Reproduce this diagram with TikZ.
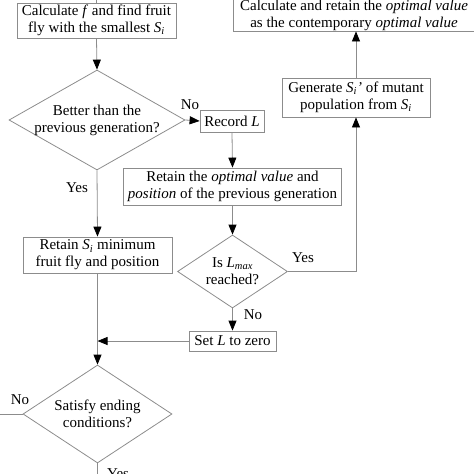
\documentclass[tikz,border=0pt]{standalone}
\usepackage{fontspec}
\setmainfont{Liberation Serif}
\usetikzlibrary{shapes.geometric,arrows.meta}
\newcommand{\Si}{\textit{S}\textsubscript{\textit{i}}}
\begin{document}
\begin{tikzpicture}[x=1pt,y=-1pt,
  txt/.style={font=\fontsize{15}{17}\selectfont,align=center,text=black},
  box/.style={txt,draw=black!45,line width=0.8pt,fill=white,inner sep=0pt,rectangle},
  dia/.style={draw=black!45,line width=0.8pt,diamond,inner sep=0pt},
  ln/.style={draw=black!45,line width=0.8pt},
  arr/.style={ln,-{Triangle[length=10pt,width=8pt,black]}},
  lab/.style={txt,inner sep=0pt}]
\useasboundingbox (0,0) rectangle (474,474);
\clip (0,0) rectangle (474,474);
% nodes
\node[box,minimum width=242pt,minimum height=36pt,
  label={[txt,yshift=-2.5pt]center:Calculate and retain the \textit{optimal value}\\as the contemporary \textit{optimal value}}] (top) at (354,13) {};
\node[box,minimum width=159pt,minimum height=35pt] (b1) at (96.5,20.5)
  {Calculate \textit{f} and find fruit\\fly with the smallest \Si};
\coordinate (start) at (96.5,-10);
\node[dia,minimum width=176pt,minimum height=100pt,
  label={[txt]center:Better than the\\previous generation?}] (d1) at (97,120) {};
\node[box,minimum width=64pt,minimum height=22pt] (rec) at (232,121) {Record \textit{L}};
\node[box,minimum width=218pt,minimum height=37pt] (ret) at (232.5,186.5)
  {Retain the \textit{optimal value} and\\\textit{position} of the previous generation};
\node[dia,minimum width=110pt,minimum height=73pt,
  label={[txt]center:Is \textit{L}\textsubscript{\textit{max}}\\reached?}] (d2) at (232.5,271.5) {};
\node[box,minimum width=148pt,minimum height=39pt] (gen) at (356,97.5)
  {Generate \Si\textit{'} of mutant\\population from \Si};
\node[box,minimum width=149pt,minimum height=36pt] (b2) at (97.5,255)
  {Retain \Si{} minimum\\fruit fly and position};
\node[box,minimum width=87pt,minimum height=20pt] (set) at (232.5,341) {Set \textit{L} to zero};
\node[dia,minimum width=149pt,minimum height=98pt,
  label={[txt]center:Satisfy ending\\conditions?}] (d3) at (97.5,414) {};
\coordinate (noend) at (-10,414);
\coordinate (yesend) at (97.5,490);
% connectors
\draw[ln] (start) -- (b1.north);
\draw[arr] (b1.south) -- (d1.north);
\draw[arr] (d1.east) -- (rec.west);
\draw[arr] (rec.south) -- (ret.north);
\draw[arr] (ret.south) -- (d2.north);
\draw[arr] (d2.east) -| (gen.south);
\draw[arr] (gen.north) -- (gen.north |- top.south);
\draw[arr] (d1.south) -- (b2.north);
\draw[arr] (d2.south) -- (set.north);
\draw[arr] (set.west) -- (set.west -| b2.south);
\draw[arr] (b2.south) -- (d3.north);
\draw[ln] (d3.west) -- (noend);
\draw[ln] (d3.south) -- (yesend);
% labels
\node[lab] at (190,105) {No};
\node[lab] at (77,188) {Yes};
\node[lab] at (303,258) {Yes};
\node[lab] at (253,315) {No};
\node[lab] at (20,400) {No};
\node[lab,anchor=north west] at (107,468) {Yes};
\end{tikzpicture}
\end{document}
